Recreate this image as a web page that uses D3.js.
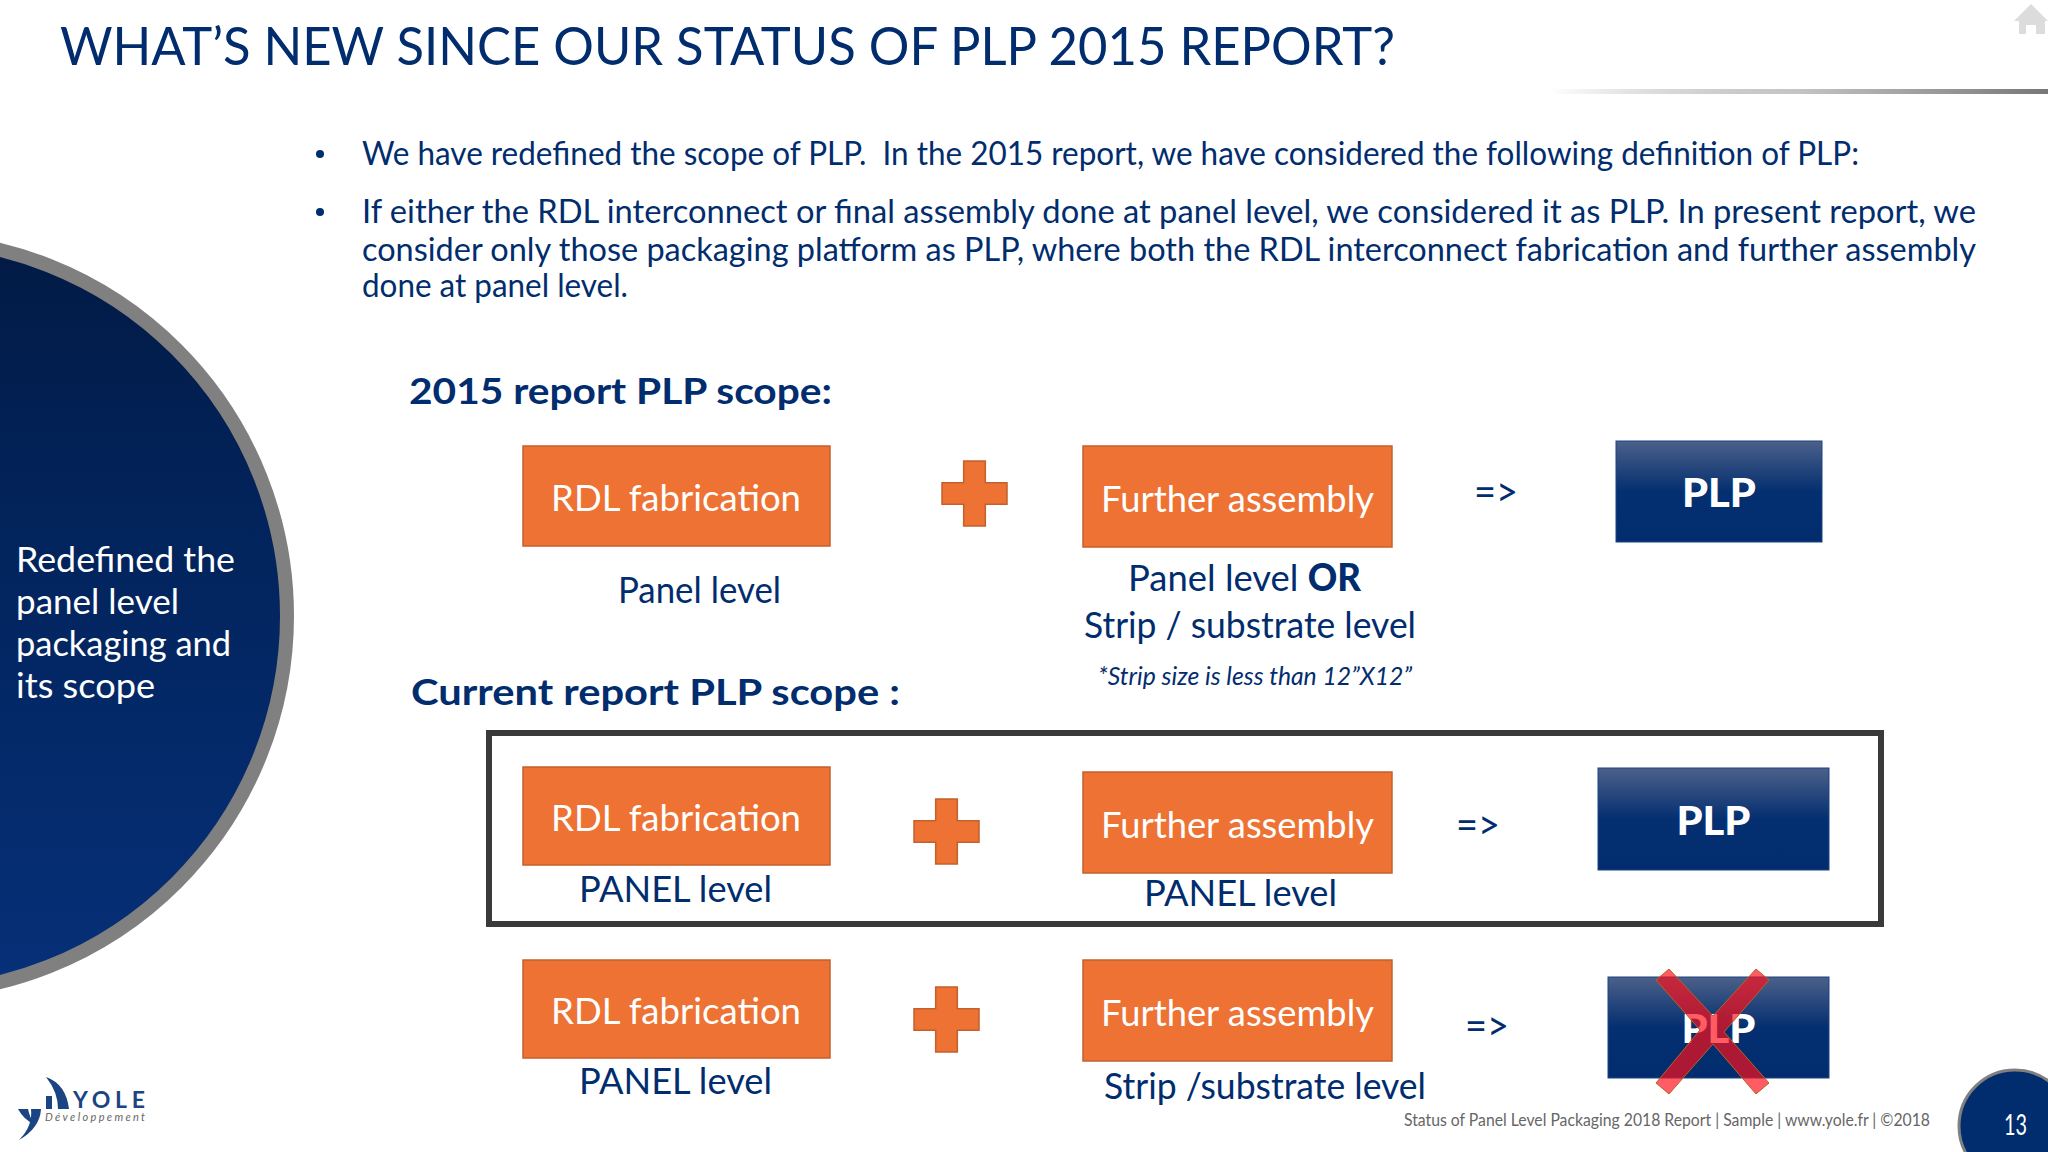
<!DOCTYPE html>
<html>
<head>
<meta charset="utf-8">
<script src="https://cdn.jsdelivr.net/npm/d3@7"></script>
<style>
  html, body { margin: 0; padding: 0; background: #fff; }
  svg { display: block; }
  text { font-family: Lato, "Open Sans", sans-serif; }
</style>
</head>
<body>
<div id="slide"></div>
<script>
// slide content
var titleText = "WHAT\u2019S NEW SINCE OUR STATUS OF PLP 2015 REPORT?";
var bodyLines = [
  "We have redefined the scope of PLP.  In the 2015 report, we have considered the following definition of PLP:",
  "If either the RDL interconnect or final assembly done at panel level, we considered it as PLP. In present report, we",
  "consider only those packaging platform as PLP, where both the RDL interconnect fabrication and further assembly",
  "done at panel level."
];
var sideLines = ["Redefined the", "panel level", "packaging and", "its scope"];
var scopeRows = ["2015 report", "Current panel", "Current strip"];
var headings = ["2015 report PLP scope:", "Current report PLP scope :"];
var rdlLevels = ["Panel level", "PANEL level", "PANEL level"];
var assemblyLevels = ["Panel level ", "PANEL level", "Strip /substrate level"];
var stripLine = "Strip / substrate level";
var stripNote = "*Strip size is less than 12\u201dX12\u201d";
var footerText = "Status of Panel Level Packaging 2018 Report | Sample | www.yole.fr | \u00a92018";
var pageNumber = "13";

var svgWidth = 2048;
var svgHeight = 1152;
var navy = "#012d6e";
var orange = "#ed7233";
var orangeEdge = "#c4602c";

// where each row of the diagram sits
var rdlY = d3.scaleOrdinal().domain(scopeRows).range([446, 767, 960]);
var rdlH = d3.scaleOrdinal().domain(scopeRows).range([100, 98, 98]);
var rdlBase = d3.scaleOrdinal().domain(scopeRows).range([511, 831, 1024]);
var asmY = d3.scaleOrdinal().domain(scopeRows).range([446, 772, 960]);
var asmH = d3.scaleOrdinal().domain(scopeRows).range([101, 101, 101]);
var asmBase = d3.scaleOrdinal().domain(scopeRows).range([512, 838, 1026]);
var plusX = d3.scaleOrdinal().domain(scopeRows).range([942, 914, 914]);
var plusY = d3.scaleOrdinal().domain(scopeRows).range([461, 799, 987]);
var arrowX = d3.scaleOrdinal().domain(scopeRows).range([1474, 1456, 1465]);
var arrowY = d3.scaleOrdinal().domain(scopeRows).range([506, 839, 1040]);
var plpX = d3.scaleOrdinal().domain(scopeRows).range([1616, 1598, 1608]);
var plpW = d3.scaleOrdinal().domain(scopeRows).range([206, 231, 221]);
var plpY = d3.scaleOrdinal().domain(scopeRows).range([441, 768, 977]);
var plpH = d3.scaleOrdinal().domain(scopeRows).range([101, 102, 101]);
var plpBase = d3.scaleOrdinal().domain(scopeRows).range([507, 835, 1043]);
var rdlLevelX = d3.scaleOrdinal().domain(scopeRows).range([618, 579, 579]);
var rdlLevelW = d3.scaleOrdinal().domain(scopeRows).range([163, 193, 193]);
var rdlLevelY = d3.scaleOrdinal().domain(scopeRows).range([603, 902, 1094]);
var asmLevelX = d3.scaleOrdinal().domain(scopeRows).range([1128, 1144, 1104]);
var asmLevelW = d3.scaleOrdinal().domain(scopeRows).range([233, 193, 322]);
var asmLevelY = d3.scaleOrdinal().domain(scopeRows).range([591, 906, 1099]);
var plusSize = d3.scaleLinear().domain([0, 1]).range([0, 65]);

var svg = d3.select("#slide")
  .append("svg")
  .attr("width", svgWidth)
  .attr("height", svgHeight);

var defs = svg.append("defs");

function gradient(id, x2, y2, stops) {
  var g = defs.append("linearGradient")
    .attr("id", id)
    .attr("x1", 0).attr("y1", 0)
    .attr("x2", x2).attr("y2", y2);
  stops.forEach(s => {
    g.append("stop")
      .attr("offset", s[0])
      .attr("stop-color", s[1])
      .attr("stop-opacity", s[2] === undefined ? 1 : s[2]);
  });
}
gradient("plpFill", 0, 1, [[0, "#4c6089"], [0.5, "#042f70"], [1, navy]]);
gradient("circleFill", 0, 1, [[0, "#021a44"], [0.35, "#02235a"], [1, "#063079"]]);
gradient("ruleFill", 1, 0, [[0, "#999", 0], [0.5, "#c4c4c4"], [1, "#777"]]);

// text helper, width comes from the picture so the lines end where they should
function label(x, y, width, size, str, color, weight, anchor) {
  var t = svg.append("text")
    .attr("x", x)
    .attr("y", y)
    .attr("font-size", size)
    .attr("fill", color || navy)
    .attr("font-weight", weight || 400)
    .attr("text-anchor", anchor || "start")
    .style("white-space", "pre")
    .text(str);
  if (width) {
    t.attr("textLength", width).attr("lengthAdjust", "spacingAndGlyphs");
  }
  return t;
}

// title + rule + home icon
label(60, 65, 1335, 53, titleText);
svg.append("rect")
  .attr("x", 1550).attr("y", 89)
  .attr("width", 498).attr("height", 5)
  .attr("fill", "url(#ruleFill)");

svg.append("path")
  .attr("d", "M2014,21 L2031,4 L2048,21 L2045,21 L2045,34 L2036,34 L2036,25 L2026,25 L2026,34 L2019,34 L2019,21 Z")
  .attr("fill", "#dcdcdc");

// left circle
svg.append("circle")
  .attr("cx", -90)
  .attr("cy", 616)
  .attr("r", 377)
  .attr("fill", "url(#circleFill)")
  .attr("stroke", "#808080")
  .attr("stroke-width", 14);

var sideWidths = [219, 163, 215, 139];
svg.selectAll(".side")
  .data(sideLines)
  .enter()
  .append("text")
  .attr("class", "side")
  .attr("x", 16)
  .attr("y", (d, i) => [572, 614, 656, 698][i])
  .attr("font-size", 35)
  .attr("fill", "#fff")
  .attr("textLength", (d, i) => sideWidths[i])
  .attr("lengthAdjust", "spacingAndGlyphs")
  .text(d => d);

// bullets
svg.selectAll(".bullet")
  .data([154, 212])
  .enter()
  .append("circle")
  .attr("class", "bullet")
  .attr("cx", 320)
  .attr("cy", d => d)
  .attr("r", 4)
  .attr("fill", navy);

var bodyWidths = [1497, 1614, 1614, 266];
svg.selectAll(".body")
  .data(bodyLines)
  .enter()
  .append("text")
  .attr("class", "body")
  .attr("x", 362)
  .attr("y", (d, i) => [165, 223, 261, 297][i])
  .attr("font-size", 32)
  .attr("fill", navy)
  .attr("textLength", (d, i) => bodyWidths[i])
  .attr("lengthAdjust", "spacingAndGlyphs")
  .style("white-space", "pre")
  .text(d => d);

// headings
label(409, 404, 423, 37, headings[0], navy, 700);
label(411, 705, 489, 37, headings[1], navy, 700);

// frame around the row that stays PLP
svg.append("rect")
  .attr("x", 489).attr("y", 733)
  .attr("width", 1392).attr("height", 191)
  .attr("fill", "none")
  .attr("stroke", "#3a3a3a")
  .attr("stroke-width", 6);

// rows
var rdlBoxes = svg.selectAll(".rdl")
  .data(scopeRows)
  .enter()
  .append("g")
  .attr("class", "rdl");
rdlBoxes.append("rect")
  .attr("x", 523)
  .attr("y", d => rdlY(d))
  .attr("width", 307)
  .attr("height", d => rdlH(d))
  .attr("fill", orange)
  .attr("stroke", orangeEdge)
  .attr("stroke-width", 1.5);
rdlBoxes.append("text")
  .attr("x", 551)
  .attr("y", d => rdlBase(d))
  .attr("font-size", 37)
  .attr("fill", "#fff")
  .attr("textLength", 250)
  .attr("lengthAdjust", "spacingAndGlyphs")
  .text("RDL fabrication");

var asmBoxes = svg.selectAll(".asm")
  .data(scopeRows)
  .enter()
  .append("g")
  .attr("class", "asm");
asmBoxes.append("rect")
  .attr("x", 1083)
  .attr("y", d => asmY(d))
  .attr("width", 309)
  .attr("height", d => asmH(d))
  .attr("fill", orange)
  .attr("stroke", orangeEdge)
  .attr("stroke-width", 1.5);
asmBoxes.append("text")
  .attr("x", 1101)
  .attr("y", d => asmBase(d))
  .attr("font-size", 37)
  .attr("fill", "#fff")
  .attr("textLength", 273)
  .attr("lengthAdjust", "spacingAndGlyphs")
  .text("Further assembly");

// plus signs, arm is a third of the size
function plusPath() {
  var a = plusSize(1 / 3), b = plusSize(2 / 3), c = plusSize(1);
  return `M${a},0 H${b} V${a} H${c} V${b} H${b} V${c} H${a} V${b} H0 V${a} H${a} Z`;
}
svg.selectAll(".plus")
  .data(scopeRows)
  .enter()
  .append("path")
  .attr("class", "plus")
  .attr("d", plusPath())
  .attr("transform", d => `translate(${plusX(d)},${plusY(d)})`)
  .attr("fill", orange)
  .attr("stroke", orangeEdge)
  .attr("stroke-width", 1.5);

svg.selectAll(".arrow")
  .data(scopeRows)
  .enter()
  .append("text")
  .attr("class", "arrow")
  .attr("x", d => arrowX(d))
  .attr("y", d => arrowY(d))
  .attr("font-size", 40)
  .attr("fill", navy)
  .attr("textLength", 44)
  .attr("lengthAdjust", "spacingAndGlyphs")
  .text("=>");

var plpBoxes = svg.selectAll(".plp")
  .data(scopeRows)
  .enter()
  .append("g")
  .attr("class", "plp");
plpBoxes.append("rect")
  .attr("x", d => plpX(d))
  .attr("y", d => plpY(d))
  .attr("width", d => plpW(d))
  .attr("height", d => plpH(d))
  .attr("fill", "url(#plpFill)")
  .attr("stroke", "#1d4484")
  .attr("stroke-width", 1);
plpBoxes.append("text")
  .attr("x", d => plpX(d) + plpW(d) / 2)
  .attr("y", d => plpBase(d))
  .attr("font-size", 39)
  .attr("font-weight", 900)
  .attr("fill", "#fff")
  .attr("text-anchor", "middle")
  .attr("textLength", 74)
  .attr("lengthAdjust", "spacingAndGlyphs")
  .text("PLP");

// levels under the boxes
svg.selectAll(".rdlLevel")
  .data(scopeRows)
  .enter()
  .append("text")
  .attr("class", "rdlLevel")
  .attr("x", d => rdlLevelX(d))
  .attr("y", d => rdlLevelY(d))
  .attr("font-size", 37)
  .attr("fill", navy)
  .attr("textLength", d => rdlLevelW(d))
  .attr("lengthAdjust", "spacingAndGlyphs")
  .text((d, i) => rdlLevels[i]);

var asmLevel = svg.selectAll(".asmLevel")
  .data(scopeRows)
  .enter()
  .append("text")
  .attr("class", "asmLevel")
  .attr("x", d => asmLevelX(d))
  .attr("y", d => asmLevelY(d))
  .attr("font-size", 37)
  .attr("fill", navy)
  .attr("textLength", d => asmLevelW(d))
  .attr("lengthAdjust", "spacingAndGlyphs")
  .style("white-space", "pre")
  .text((d, i) => assemblyLevels[i]);
asmLevel.filter((d, i) => i === 0)
  .append("tspan")
  .attr("font-weight", 900)
  .text("OR");

label(1084, 638, 332, 37, stripLine);
label(1098, 685, 314, 25, stripNote).attr("font-style", "italic");

// red cross on the last PLP
svg.append("path")
  .attr("d", "M1669,969 L1656,980 L1700,1030 L1656,1083 L1669,1094 L1713,1044 L1756,1094 L1769,1083 L1724,1032 L1769,980 L1756,969 L1713,1016 Z")
  .attr("fill", "rgba(255,15,25,0.68)")
  .attr("stroke", "#b5622a")
  .attr("stroke-width", 1);

// footer
label(1404, 1126, 526, 17, footerText, "#666");

svg.append("circle")
  .attr("cx", 2015)
  .attr("cy", 1126)
  .attr("r", 56)
  .attr("fill", navy)
  .attr("stroke", "#808080")
  .attr("stroke-width", 3);
label(2004, 1135, 23, 28, pageNumber, "#fff");

// logo
var logoBlue = "#1b4482";
svg.append("path")
  .attr("d", "M46,1077 Q66,1084 69,1109 L58,1109 Q58,1092 46,1077 Z")
  .attr("fill", logoBlue);
svg.append("rect")
  .attr("x", 46).attr("y", 1096)
  .attr("width", 6).attr("height", 13)
  .attr("fill", logoBlue);
svg.append("path")
  .attr("d", "M18,1109 L28,1109 Q30,1118 34,1124 Q24,1120 18,1109 Z M31,1109 L41,1109 Q40,1128 19,1140 Q33,1126 31,1109 Z")
  .attr("fill", logoBlue);
label(73, 1108, 72, 23, "YOLE", logoBlue, 700).attr("lengthAdjust", "spacing");
label(45, 1121, 100, 11, "D\u00e9veloppement", "#666").attr("font-style", "italic").attr("lengthAdjust", "spacing");
</script>
</body>
</html>
